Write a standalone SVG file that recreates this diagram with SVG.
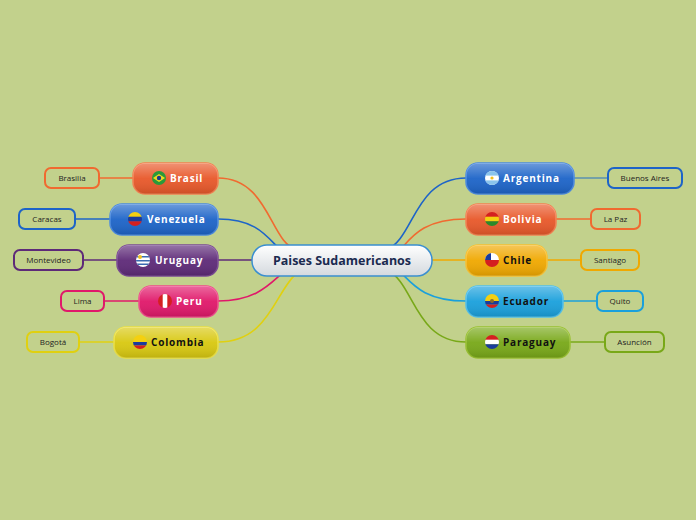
<svg xmlns="http://www.w3.org/2000/svg" width="696" height="520" viewBox="0 0 696 520">
<style>
.t{font-family:"Open Sans",sans-serif;font-weight:bold;font-size:10px;letter-spacing:0.8px;fill:#fff}
.d{fill:#111}
.l{font-family:"Open Sans",sans-serif;font-size:8px;fill:#222;text-anchor:middle}
.leaf{fill:none;stroke-width:2}
.c{fill:none;stroke-width:1.6}
.sh{fill:url(#gl)}
</style>
<defs>
<linearGradient id="gl" x1="0" y1="0" x2="0" y2="1"><stop offset="0" stop-color="#fff" stop-opacity="0.35"/><stop offset="0.5" stop-color="#fff" stop-opacity="0.05"/><stop offset="1" stop-color="#000" stop-opacity="0.12"/></linearGradient>
<linearGradient id="gc" x1="0" y1="0" x2="0" y2="1"><stop offset="0" stop-color="#fff"/><stop offset="1" stop-color="#d4d9de"/></linearGradient>
<clipPath id="f"><circle cx="0" cy="0" r="7"/></clipPath>
</defs>
<rect width="696" height="520" fill="#c2d18c"/>
<g id="connectors">
<path class="c" stroke="#f06a30" d="M218,178 C270,178 270,245 298,250"/>
<path class="c" stroke="#1d64c8" d="M218,219 C265,219 270,245 290,258"/>
<path class="c" stroke="#5e2a78" d="M218,260 H252"/>
<path class="c" stroke="#e0186a" d="M218,301 C265,301 275,275 292,266"/>
<path class="c" stroke="#e0d010" d="M218,342 C270,342 275,290 298,272"/>
<path class="c" stroke="#1d64c8" d="M466,178 C414,178 414,240 386,250"/>
<path class="c" stroke="#f06a30" d="M466,219 C420,219 410,240 398,252"/>
<path class="c" stroke="#f0a800" d="M432,260 H466"/>
<path class="c" stroke="#1aa0dc" d="M466,301 C420,301 410,280 398,270"/>
<path class="c" stroke="#78a818" d="M466,342 C414,342 414,280 386,270"/>
<path class="c" stroke="#f06a30" d="M99,178 H133"/>
<path class="c" stroke="#1d64c8" d="M75,219 H110"/>
<path class="c" stroke="#5e2a78" d="M83,260 H117"/>
<path class="c" stroke="#e0186a" d="M104,301 H139"/>
<path class="c" stroke="#e0d010" d="M79,342 H114"/>
<path class="c" stroke="#5a90b0" d="M574,178 H608"/>
<path class="c" stroke="#f06a30" d="M556,219 H591"/>
<path class="c" stroke="#f0a800" d="M547,260 H581"/>
<path class="c" stroke="#1aa0dc" d="M563,301 H597"/>
<path class="c" stroke="#78a818" d="M570,342 H605"/>
</g>
<g id="center"><rect x="252" y="245" width="180" height="31" rx="15" fill="url(#gc)" stroke="#3a8fd0" stroke-width="1.5"/><text x="342" y="265" text-anchor="middle" style="font-family:'Open Sans',sans-serif;font-weight:bold;font-size:12.5px;fill:#1a2a50">Paises Sudamericanos</text></g>

<g id="brasil"><rect x="133" y="163" width="85" height="31" rx="12" fill="#e8582a" stroke="#f48050" stroke-width="1.5"/><rect x="133" y="163" width="85" height="31" rx="12" class="sh"/>
<g transform="translate(159,178)" clip-path="url(#f)"><rect x="-7" y="-7" width="14" height="14" fill="#2a9a3a"/><path d="M-6,0 L0,-4 L6,0 L0,4Z" fill="#f0d820"/><circle r="2.2" fill="#1a3c8c"/></g>
<text class="t" x="170" y="182">Brasil</text></g>
<g id="venezuela"><rect x="110" y="204" width="108" height="31" rx="12" fill="#1d64c8" stroke="#4a8ae0" stroke-width="1.5"/><rect x="110" y="204" width="108" height="31" rx="12" class="sh"/>
<g transform="translate(135,219)" clip-path="url(#f)"><rect x="-7" y="-7" width="14" height="5" fill="#f4d010"/><rect x="-7" y="-2.3" width="14" height="4.6" fill="#1a3c9c"/><rect x="-7" y="2.3" width="14" height="5" fill="#d42020"/></g>
<text class="t" x="147" y="223">Venezuela</text></g>
<g id="uruguay"><rect x="117" y="245" width="101" height="31" rx="12" fill="#5e2a78" stroke="#7a4a94" stroke-width="1.5"/><rect x="117" y="245" width="101" height="31" rx="12" class="sh"/>
<g transform="translate(143,260)" clip-path="url(#f)"><rect x="-7" y="-7" width="14" height="14" fill="#fff"/><rect x="-7" y="-4" width="14" height="1.5" fill="#3a6ab0"/><rect x="-7" y="0" width="14" height="1.5" fill="#3a6ab0"/><rect x="-7" y="3.5" width="14" height="1.5" fill="#3a6ab0"/><circle cx="-3" cy="-3" r="2" fill="#f0c020"/></g>
<text class="t" x="155" y="264">Uruguay</text></g>
<g id="peru"><rect x="139" y="286" width="79" height="31" rx="12" fill="#e0186a" stroke="#f04a8a" stroke-width="1.5"/><rect x="139" y="286" width="79" height="31" rx="12" class="sh"/>
<g transform="translate(165,301)" clip-path="url(#f)"><rect x="-7" y="-7" width="14" height="14" fill="#d42020"/><rect x="-2.3" y="-7" width="4.6" height="14" fill="#fff"/></g>
<text class="t" x="176" y="305">Peru</text></g>
<g id="colombia"><rect x="114" y="327" width="104" height="31" rx="12" fill="#d8c810" stroke="#ece040" stroke-width="1.5"/><rect x="114" y="327" width="104" height="31" rx="12" class="sh"/>
<g transform="translate(140,342)" clip-path="url(#f)"><rect x="-7" y="-7" width="14" height="7" fill="#f4d010"/><rect x="-7" y="0" width="14" height="3.5" fill="#1a3c9c"/><rect x="-7" y="3.5" width="14" height="4" fill="#d42020"/></g>
<text class="t d" x="151" y="346">Colombia</text></g>

<g id="argentina"><rect x="466" y="163" width="108" height="31" rx="12" fill="#1d64c8" stroke="#4a8ae0" stroke-width="1.5"/><rect x="466" y="163" width="108" height="31" rx="12" class="sh"/>
<g transform="translate(492,178)" clip-path="url(#f)"><rect x="-7" y="-7" width="14" height="14" fill="#fff"/><rect x="-7" y="-7" width="14" height="4.6" fill="#8ac4ec"/><rect x="-7" y="2.4" width="14" height="5" fill="#8ac4ec"/><circle r="1.6" fill="#f0c020"/></g>
<text class="t" x="503" y="182">Argentina</text></g>
<g id="bolivia"><rect x="466" y="204" width="90" height="31" rx="12" fill="#e8582a" stroke="#f48050" stroke-width="1.5"/><rect x="466" y="204" width="90" height="31" rx="12" class="sh"/>
<g transform="translate(492,219)" clip-path="url(#f)"><rect x="-7" y="-7" width="14" height="5" fill="#d42020"/><rect x="-7" y="-2.3" width="14" height="4.6" fill="#f4d010"/><rect x="-7" y="2.3" width="14" height="5" fill="#2a8a2a"/></g>
<text class="t" x="503" y="223">Bolivia</text></g>
<g id="chile"><rect x="466" y="245" width="81" height="31" rx="12" fill="#f0a800" stroke="#f8c030" stroke-width="1.5"/><rect x="466" y="245" width="81" height="31" rx="12" class="sh"/>
<g transform="translate(492,260)" clip-path="url(#f)"><rect x="-7" y="-7" width="14" height="7" fill="#fff"/><rect x="-7" y="0" width="14" height="7" fill="#d42020"/><rect x="-7" y="-7" width="6" height="7" fill="#1a3c9c"/></g>
<text class="t d" x="503" y="264">Chile</text></g>
<g id="ecuador"><rect x="466" y="286" width="97" height="31" rx="12" fill="#1aa0dc" stroke="#50c0ec" stroke-width="1.5"/><rect x="466" y="286" width="97" height="31" rx="12" class="sh"/>
<g transform="translate(492,301)" clip-path="url(#f)"><rect x="-7" y="-7" width="14" height="7" fill="#f4d010"/><rect x="-7" y="0" width="14" height="3.5" fill="#1a3c9c"/><rect x="-7" y="3.5" width="14" height="4" fill="#d42020"/><circle r="2" fill="#8a6a30"/></g>
<text class="t d" x="503" y="305">Ecuador</text></g>
<g id="paraguay"><rect x="466" y="327" width="104" height="31" rx="12" fill="#78a818" stroke="#98c030" stroke-width="1.5"/><rect x="466" y="327" width="104" height="31" rx="12" class="sh"/>
<g transform="translate(492,342)" clip-path="url(#f)"><rect x="-7" y="-7" width="14" height="5" fill="#d42020"/><rect x="-7" y="-2.3" width="14" height="4.6" fill="#fff"/><rect x="-7" y="2.3" width="14" height="5" fill="#1a3c9c"/></g>
<text class="t d" x="503" y="346">Paraguay</text></g>

<g id="brasilia"><rect class="leaf" x="45" y="168" width="54" height="20" rx="6" stroke="#f06a30"/><text class="l" x="72" y="181">Brasilia</text></g>
<g id="caracas"><rect class="leaf" x="19" y="209" width="56" height="20" rx="6" stroke="#1d64c8"/><text class="l" x="47" y="222">Caracas</text></g>
<g id="montevideo"><rect class="leaf" x="14" y="250" width="69" height="20" rx="6" stroke="#5e2a78"/><text class="l" x="48.500" y="263">Montevideo</text></g>
<g id="lima"><rect class="leaf" x="61" y="291" width="43" height="20" rx="6" stroke="#e0186a"/><text class="l" x="82.500" y="304">Lima</text></g>
<g id="bogota"><rect class="leaf" x="27" y="332" width="52" height="20" rx="6" stroke="#e0d010"/><text class="l" x="53" y="345">Bogotá</text></g>
<g id="buenosaires"><rect class="leaf" x="608" y="168" width="74" height="20" rx="6" stroke="#1d64c8"/><text class="l" x="645" y="181">Buenos Aires</text></g>
<g id="lapaz"><rect class="leaf" x="591" y="209" width="49" height="20" rx="6" stroke="#f06a30"/><text class="l" x="615.500" y="222">La Paz</text></g>
<g id="santiago"><rect class="leaf" x="581" y="250" width="58" height="20" rx="6" stroke="#f0a800"/><text class="l" x="610" y="263">Santiago</text></g>
<g id="quito"><rect class="leaf" x="597" y="291" width="46" height="20" rx="6" stroke="#1aa0dc"/><text class="l" x="620" y="304">Quito</text></g>
<g id="asuncion"><rect class="leaf" x="605" y="332" width="59" height="20" rx="6" stroke="#78a818"/><text class="l" x="634.500" y="345">Asunción</text></g>
</svg>
